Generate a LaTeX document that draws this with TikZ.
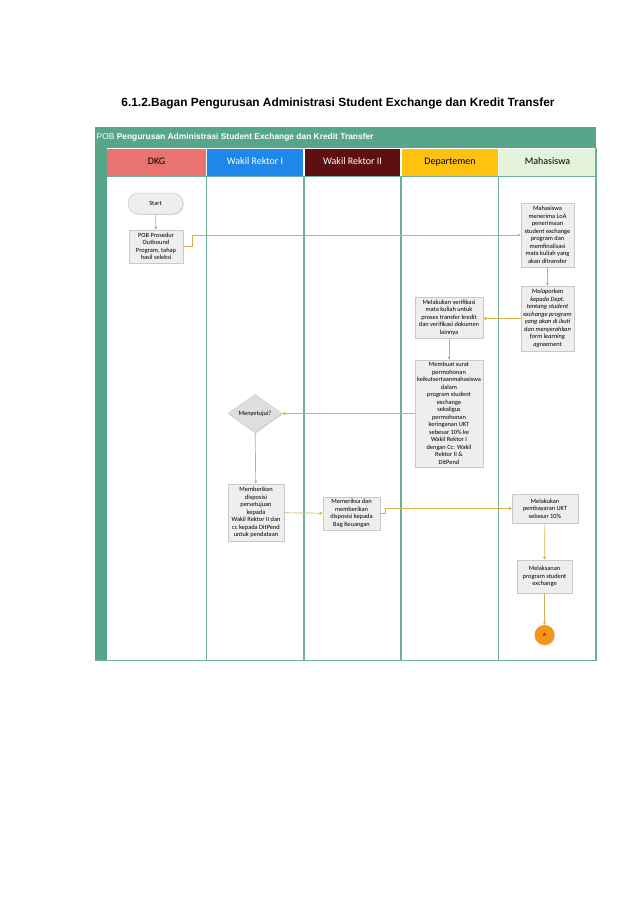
\documentclass[tikz,border=0pt]{standalone}
\usepackage{fontspec}
\setmainfont{Carlito}
\newfontfamily\arialf{Liberation Sans}
\usetikzlibrary{arrows.meta,shapes.geometric,shadows}
\definecolor{pobgreen}{HTML}{58A68A}
\definecolor{lanegreen}{HTML}{6FAF96}
\definecolor{hdkg}{HTML}{E8736F}
\definecolor{hwr1}{HTML}{1E87E8}
\definecolor{hwr2}{HTML}{5E1010}
\definecolor{hdept}{HTML}{FFC20E}
\definecolor{hmhs}{HTML}{E3F2D9}
\definecolor{boxfill}{HTML}{EEEEEE}
\definecolor{boxline}{HTML}{C9C9C9}
\definecolor{connc}{HTML}{D6B04A}
\definecolor{orangeA}{HTML}{F7941D}
\begin{document}
\begin{tikzpicture}[x=1pt,y=-1pt,
  lanehead/.style={rectangle, inner sep=0pt, minimum height=27pt, text height=6.8pt, text depth=2pt, font=\fontsize{10}{12}\selectfont},
  box/.style={rectangle, draw=boxline, fill=boxfill, line width=0.5pt,
    drop shadow={shadow xshift=0.8pt, shadow yshift=-0.8pt, fill=black!30},
    align=center, inner sep=1pt, font=\fontsize{6.4}{7.5}\selectfont},
  conn/.style={draw=connc, line width=0.7pt, -{Triangle[length=3pt,width=3pt]}}]
\useasboundingbox (0,0) rectangle (638,902);
\node[font=\arialf\bfseries\fontsize{11.9}{14}\selectfont] (title) at (338,103)
  {6.1.2.Bagan Pengurusan Administrasi Student Exchange dan Kredit Transfer};
% frame
\fill[pobgreen] (95,127) rectangle (596,148);
\node[anchor=west, text=white, inner sep=0pt, font=\arialf\fontsize{8.4}{10}\selectfont] (hdr) at (96.5,137.5)
  {POB \textbf{Pengurusan Administrasi Student Exchange dan Kredit Transfer}};
\fill[pobgreen] (95,148) rectangle (107,660);
\fill[white] (107,176) rectangle (596,660);
% lane headers
\node[lanehead, fill=hdkg, minimum width=99pt] (hDKG) at (156.5,162.5) {DKG};
\node[lanehead, fill=hwr1, minimum width=96pt, text=white] (hWR1) at (255,162.5) {Wakil Rektor I};
\node[lanehead, fill=hwr2, minimum width=95pt, text=white] (hWR2) at (352.5,162.5) {Wakil Rektor II};
\node[lanehead, fill=hdept, minimum width=96pt] (hDept) at (450,162.5) {Departemen};
\node[lanehead, fill=hmhs, minimum width=97pt] (hMhs) at (547.5,162.5) {Mahasiswa};
% lane lines
\begin{scope}[draw=lanegreen, line width=1.3pt]
\draw (107,176.5) -- (596,176.5);
\draw (206.5,176) -- (206.5,660.5);
\draw (304,176) -- (304,660.5);
\draw (401,176) -- (401,660.5);
\draw (498.5,176) -- (498.5,660.5);
\draw (596,148) -- (596,660.5);
\draw (95,660.5) -- (596.6,660.5);
\end{scope}
% nodes
\node[box, rounded corners=10.5pt, minimum width=55pt, minimum height=21pt] (start) at (155.5,203.5) {Start};
\node[box, minimum width=54pt, minimum height=33pt] (pob) at (156,246.5) {POB Prosedur\\Outbound\\Program, tahap\\hasil seleksi};
\node[box, minimum width=53pt, minimum height=64pt] (m1) at (547.5,235) {Mahasiswa\\menerima LoA\\penerimaan\\student exchange\\program dan\\memfinalisasi\\mata kuliah yang\\akan ditransfer};
\node[box, minimum width=53pt, minimum height=65pt, font=\fontsize{6.4}{7.5}\selectfont\itshape] (m2) at (547.5,318.5) {Melaporkan\\kepada Dept.\\tentang student\\exchange program\\yang akan di ikuti\\dan menyerahkan\\form learning\\agreement};
\node[box, minimum width=68pt, minimum height=41pt] (d1) at (449,317.5) {Melakukan verifikasi\\mata kuliah untuk\\proses transfer kredit\\dan verifikasi dokumen\\lainnya};
\node[box, minimum width=68pt, minimum height=107pt] (d2) at (449,413.5) {Membuat surat\\permohonan\\keikutsertaanmahasiswa\\dalam\\program student\\exchange\\sekaligus\\permohonan\\keringanan UKT\\sebesar 10\% ke\\Wakil Rektor I\\dengan Cc: Wakil\\Rektor II \&\\DitPend};
\node[box, shape=diamond, fill=black!13, inner sep=0pt, minimum width=54pt, minimum height=32pt] (dia) at (255,413.5) {Menyetujui?};
\node[box, minimum width=56pt, minimum height=57pt] (w1) at (256,512.5) {Memberikan\\disposisi\\persetujuan\\kepada\\Wakil Rektor II dan\\cc kepada DitPend\\untuk pendataan};
\node[box, minimum width=57pt, minimum height=33pt] (w2) at (351.5,513.5) {Memeriksa dan\\memberikan\\disposisi kepada\\Bag Keuangan};
\node[box, minimum width=66pt, minimum height=29pt] (bayar) at (545,508.5) {Melakukan\\pembayaran UKT\\sebesar 10\%};
\node[box, minimum width=55pt, minimum height=33pt] (laks) at (544.5,576.5) {Melaksanan\\program student\\exchange};
\node[circle, fill=orangeA, minimum size=20pt, inner sep=0pt, drop shadow={shadow xshift=0.6pt, shadow yshift=-0.6pt, fill=black!25}, font=\fontsize{5}{6}\selectfont] (A) at (544.5,635) {A};
% connectors
\draw[conn] (start) -- (pob);
\draw[conn] (pob.east) -- ++(9,0) |- (m1.west);
\draw[conn] (m1) -- (m2);
\draw[conn] (m2.west) -- (m2.west -| d1.east);
\draw[conn] (d1) -- (d2);
\draw[conn] (d2.west) -- (dia.east);
\draw[conn] (dia) -- (w1);
\draw[conn] (w1) -- (w2);
\draw[conn] (w2.east) -- ++(5,0) |- (bayar.west);
\draw[conn] (bayar) -- (laks);
\draw[conn] (laks) -- (A);
\end{tikzpicture}
\end{document}
